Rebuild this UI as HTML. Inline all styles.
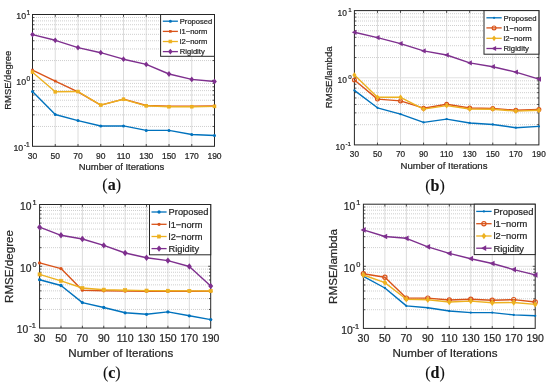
<!DOCTYPE html>
<html><head><meta charset="utf-8"><style>
html,body{margin:0;padding:0;background:#fff;}
body{width:550px;height:386px;overflow:hidden;}
svg{display:block;filter:blur(0.3px);font-family:"Liberation Sans",sans-serif;}
text{stroke:#262626;stroke-width:0.22px;}
.lt{stroke:#111;stroke-width:0.1px;}
</style></head><body>
<svg width="550" height="386" viewBox="0 0 550 386"><rect width="550" height="386" fill="#fff"/><g><line x1="55.25" y1="14.5" x2="55.25" y2="146.3" stroke="#d8d8d8" stroke-width="0.9"/><line x1="78.00" y1="14.5" x2="78.00" y2="146.3" stroke="#d8d8d8" stroke-width="0.9"/><line x1="100.75" y1="14.5" x2="100.75" y2="146.3" stroke="#d8d8d8" stroke-width="0.9"/><line x1="123.50" y1="14.5" x2="123.50" y2="146.3" stroke="#d8d8d8" stroke-width="0.9"/><line x1="146.25" y1="14.5" x2="146.25" y2="146.3" stroke="#d8d8d8" stroke-width="0.9"/><line x1="169.00" y1="14.5" x2="169.00" y2="146.3" stroke="#d8d8d8" stroke-width="0.9"/><line x1="191.75" y1="14.5" x2="191.75" y2="146.3" stroke="#d8d8d8" stroke-width="0.9"/><line x1="32.5" y1="80.40" x2="214.5" y2="80.40" stroke="#dedede" stroke-width="0.9"/><line x1="34" y1="60.56" x2="214.5" y2="60.56" stroke="#c3c3c3" stroke-width="0.8" stroke-dasharray="1 1"/><line x1="34" y1="48.96" x2="214.5" y2="48.96" stroke="#c3c3c3" stroke-width="0.8" stroke-dasharray="1 1"/><line x1="34" y1="40.72" x2="214.5" y2="40.72" stroke="#c3c3c3" stroke-width="0.8" stroke-dasharray="1 1"/><line x1="34" y1="34.34" x2="214.5" y2="34.34" stroke="#c3c3c3" stroke-width="0.8" stroke-dasharray="1 1"/><line x1="34" y1="29.12" x2="214.5" y2="29.12" stroke="#c3c3c3" stroke-width="0.8" stroke-dasharray="1 1"/><line x1="34" y1="24.71" x2="214.5" y2="24.71" stroke="#c3c3c3" stroke-width="0.8" stroke-dasharray="1 1"/><line x1="34" y1="20.89" x2="214.5" y2="20.89" stroke="#c3c3c3" stroke-width="0.8" stroke-dasharray="1 1"/><line x1="34" y1="17.52" x2="214.5" y2="17.52" stroke="#c3c3c3" stroke-width="0.8" stroke-dasharray="1 1"/><line x1="34" y1="126.46" x2="214.5" y2="126.46" stroke="#c3c3c3" stroke-width="0.8" stroke-dasharray="1 1"/><line x1="34" y1="114.86" x2="214.5" y2="114.86" stroke="#c3c3c3" stroke-width="0.8" stroke-dasharray="1 1"/><line x1="34" y1="106.62" x2="214.5" y2="106.62" stroke="#c3c3c3" stroke-width="0.8" stroke-dasharray="1 1"/><line x1="34" y1="100.24" x2="214.5" y2="100.24" stroke="#c3c3c3" stroke-width="0.8" stroke-dasharray="1 1"/><line x1="34" y1="95.02" x2="214.5" y2="95.02" stroke="#c3c3c3" stroke-width="0.8" stroke-dasharray="1 1"/><line x1="34" y1="90.61" x2="214.5" y2="90.61" stroke="#c3c3c3" stroke-width="0.8" stroke-dasharray="1 1"/><line x1="34" y1="86.79" x2="214.5" y2="86.79" stroke="#c3c3c3" stroke-width="0.8" stroke-dasharray="1 1"/><line x1="34" y1="83.42" x2="214.5" y2="83.42" stroke="#c3c3c3" stroke-width="0.8" stroke-dasharray="1 1"/></g><path d="M55.25 146.3v-2.3M55.25 14.5v2.3M78.00 146.3v-2.3M78.00 14.5v2.3M100.75 146.3v-2.3M100.75 14.5v2.3M123.50 146.3v-2.3M123.50 14.5v2.3M146.25 146.3v-2.3M146.25 14.5v2.3M169.00 146.3v-2.3M169.00 14.5v2.3M191.75 146.3v-2.3M191.75 14.5v2.3M32.5 60.56h1.8M214.5 60.56h-1.8M32.5 48.96h1.8M214.5 48.96h-1.8M32.5 40.72h1.8M214.5 40.72h-1.8M32.5 34.34h1.8M214.5 34.34h-1.8M32.5 29.12h1.8M214.5 29.12h-1.8M32.5 24.71h1.8M214.5 24.71h-1.8M32.5 20.89h1.8M214.5 20.89h-1.8M32.5 17.52h1.8M214.5 17.52h-1.8M32.5 126.46h1.8M214.5 126.46h-1.8M32.5 114.86h1.8M214.5 114.86h-1.8M32.5 106.62h1.8M214.5 106.62h-1.8M32.5 100.24h1.8M214.5 100.24h-1.8M32.5 95.02h1.8M214.5 95.02h-1.8M32.5 90.61h1.8M214.5 90.61h-1.8M32.5 86.79h1.8M214.5 86.79h-1.8M32.5 83.42h1.8M214.5 83.42h-1.8M32.5 80.40h2.5M214.5 80.40h-2.5" stroke="#262626" stroke-width="0.8" fill="none"/><rect x="32.5" y="14.5" width="182.00" height="131.80" fill="none" stroke="#262626" stroke-width="1.0"/><polyline points="32.50,91.50 55.25,114.50 78.00,120.60 100.75,126.00 123.50,125.90 146.25,130.40 169.00,130.40 191.75,134.50 214.50,135.50" fill="none" stroke="#0072BD" stroke-width="1.4" stroke-linejoin="round"/><circle cx="32.50" cy="91.50" r="1.50" fill="#0072BD"/><circle cx="55.25" cy="114.50" r="1.50" fill="#0072BD"/><circle cx="78.00" cy="120.60" r="1.50" fill="#0072BD"/><circle cx="100.75" cy="126.00" r="1.50" fill="#0072BD"/><circle cx="123.50" cy="125.90" r="1.50" fill="#0072BD"/><circle cx="146.25" cy="130.40" r="1.50" fill="#0072BD"/><circle cx="169.00" cy="130.40" r="1.50" fill="#0072BD"/><circle cx="191.75" cy="134.50" r="1.50" fill="#0072BD"/><circle cx="214.50" cy="135.50" r="1.50" fill="#0072BD"/><polyline points="32.50,70.10 55.25,81.10 78.00,91.80 100.75,105.10 123.50,99.10 146.25,105.50 169.00,106.30 191.75,106.30 214.50,106.00" fill="none" stroke="#D95319" stroke-width="1.4" stroke-linejoin="round"/><rect x="31.20" y="68.80" width="2.60" height="2.60" fill="#D95319"/><rect x="53.95" y="79.80" width="2.60" height="2.60" fill="#D95319"/><rect x="76.70" y="90.50" width="2.60" height="2.60" fill="#D95319"/><rect x="99.45" y="103.80" width="2.60" height="2.60" fill="#D95319"/><rect x="122.20" y="97.80" width="2.60" height="2.60" fill="#D95319"/><rect x="144.95" y="104.20" width="2.60" height="2.60" fill="#D95319"/><rect x="167.70" y="105.00" width="2.60" height="2.60" fill="#D95319"/><rect x="190.45" y="105.00" width="2.60" height="2.60" fill="#D95319"/><rect x="213.20" y="104.70" width="2.60" height="2.60" fill="#D95319"/><polyline points="32.50,72.20 55.25,91.80 78.00,91.50 100.75,105.10 123.50,99.30 146.25,105.80 169.00,106.70 191.75,106.70 214.50,106.40" fill="none" stroke="#EDB120" stroke-width="1.4" stroke-linejoin="round"/><rect x="31.05" y="70.75" width="2.90" height="2.90" fill="#EDB120" stroke="#EDB120" stroke-width="0.6"/><rect x="53.80" y="90.35" width="2.90" height="2.90" fill="#EDB120" stroke="#EDB120" stroke-width="0.6"/><rect x="76.55" y="90.05" width="2.90" height="2.90" fill="#EDB120" stroke="#EDB120" stroke-width="0.6"/><rect x="99.30" y="103.65" width="2.90" height="2.90" fill="#EDB120" stroke="#EDB120" stroke-width="0.6"/><rect x="122.05" y="97.85" width="2.90" height="2.90" fill="#EDB120" stroke="#EDB120" stroke-width="0.6"/><rect x="144.80" y="104.35" width="2.90" height="2.90" fill="#EDB120" stroke="#EDB120" stroke-width="0.6"/><rect x="167.55" y="105.25" width="2.90" height="2.90" fill="#EDB120" stroke="#EDB120" stroke-width="0.6"/><rect x="190.30" y="105.25" width="2.90" height="2.90" fill="#EDB120" stroke="#EDB120" stroke-width="0.6"/><rect x="213.05" y="104.95" width="2.90" height="2.90" fill="#EDB120" stroke="#EDB120" stroke-width="0.6"/><polyline points="32.50,34.60 55.25,40.30 78.00,47.60 100.75,52.70 123.50,59.20 146.25,64.40 169.00,74.00 191.75,79.40 214.50,81.50" fill="none" stroke="#7E2F8E" stroke-width="1.4" stroke-linejoin="round"/><path d="M32.50 31.70L34.80 34.60L32.50 37.50L30.20 34.60Z" fill="#7E2F8E"/><path d="M55.25 37.40L57.55 40.30L55.25 43.20L52.95 40.30Z" fill="#7E2F8E"/><path d="M78.00 44.70L80.30 47.60L78.00 50.50L75.70 47.60Z" fill="#7E2F8E"/><path d="M100.75 49.80L103.05 52.70L100.75 55.60L98.45 52.70Z" fill="#7E2F8E"/><path d="M123.50 56.30L125.80 59.20L123.50 62.10L121.20 59.20Z" fill="#7E2F8E"/><path d="M146.25 61.50L148.55 64.40L146.25 67.30L143.95 64.40Z" fill="#7E2F8E"/><path d="M169.00 71.10L171.30 74.00L169.00 76.90L166.70 74.00Z" fill="#7E2F8E"/><path d="M191.75 76.50L194.05 79.40L191.75 82.30L189.45 79.40Z" fill="#7E2F8E"/><path d="M214.50 78.60L216.80 81.50L214.50 84.40L212.20 81.50Z" fill="#7E2F8E"/><rect x="160.6" y="14.5" width="53.90" height="41.80" fill="#fff" stroke="#262626" stroke-width="1.0"/><line x1="162.8" y1="21.2" x2="177.9" y2="21.2" stroke="#0072BD" stroke-width="1.3"/><circle cx="170.35" cy="21.20" r="1.50" fill="#0072BD"/><text x="179.8" y="23.94" font-size="7.6" fill="#262626">Proposed</text><line x1="162.8" y1="31.4" x2="177.9" y2="31.4" stroke="#D95319" stroke-width="1.3"/><rect x="169.05" y="30.10" width="2.60" height="2.60" fill="#D95319"/><text x="179.8" y="34.14" font-size="7.6" fill="#262626">l1−norm</text><line x1="162.8" y1="41.5" x2="177.9" y2="41.5" stroke="#EDB120" stroke-width="1.3"/><rect x="168.90" y="40.05" width="2.90" height="2.90" fill="#EDB120" stroke="#EDB120" stroke-width="0.6"/><text x="179.8" y="44.24" font-size="7.6" fill="#262626">l2−norm</text><line x1="162.8" y1="51.6" x2="177.9" y2="51.6" stroke="#7E2F8E" stroke-width="1.3"/><path d="M170.35 48.70L172.65 51.60L170.35 54.50L168.05 51.60Z" fill="#7E2F8E"/><text x="179.8" y="54.34" font-size="7.6" fill="#262626">Rigidity</text><text x="32.50" y="158.6" font-size="8.5" fill="#262626" text-anchor="middle">30</text><text x="55.25" y="158.6" font-size="8.5" fill="#262626" text-anchor="middle">50</text><text x="78.00" y="158.6" font-size="8.5" fill="#262626" text-anchor="middle">70</text><text x="100.75" y="158.6" font-size="8.5" fill="#262626" text-anchor="middle">90</text><text x="123.50" y="158.6" font-size="8.5" fill="#262626" text-anchor="middle">110</text><text x="146.25" y="158.6" font-size="8.5" fill="#262626" text-anchor="middle">130</text><text x="169.00" y="158.6" font-size="8.5" fill="#262626" text-anchor="middle">150</text><text x="191.75" y="158.6" font-size="8.5" fill="#262626" text-anchor="middle">170</text><text x="214.50" y="158.6" font-size="8.5" fill="#262626" text-anchor="middle">190</text><text x="30.20" y="15.30" font-size="6.50" fill="#262626" text-anchor="end">1</text><text x="26.10" y="19.40" font-size="8.8" fill="#262626" text-anchor="end">10</text><text x="30.20" y="81.20" font-size="6.50" fill="#262626" text-anchor="end">0</text><text x="26.10" y="85.30" font-size="8.8" fill="#262626" text-anchor="end">10</text><text x="29.70" y="147.10" font-size="6.50" fill="#262626" text-anchor="end">-1</text><text x="23.25" y="151.20" font-size="8.8" fill="#262626" text-anchor="end">10</text><text x="121.5" y="170.3" font-size="9.45" fill="#262626" text-anchor="middle">Number of Iterations</text><text transform="translate(10.7,80.25) rotate(-90)" font-size="9.4" fill="#262626" text-anchor="middle">RMSE/degree</text><text x="111.7" y="189.7" class="lt" font-family="Liberation Serif, serif" font-size="16" fill="#111" text-anchor="middle"><tspan>(</tspan><tspan font-weight="bold">a</tspan><tspan>)</tspan></text><g><line x1="377.46" y1="10.6" x2="377.46" y2="144.9" stroke="#d8d8d8" stroke-width="0.9"/><line x1="400.52" y1="10.6" x2="400.52" y2="144.9" stroke="#d8d8d8" stroke-width="0.9"/><line x1="423.59" y1="10.6" x2="423.59" y2="144.9" stroke="#d8d8d8" stroke-width="0.9"/><line x1="446.65" y1="10.6" x2="446.65" y2="144.9" stroke="#d8d8d8" stroke-width="0.9"/><line x1="469.71" y1="10.6" x2="469.71" y2="144.9" stroke="#d8d8d8" stroke-width="0.9"/><line x1="492.77" y1="10.6" x2="492.77" y2="144.9" stroke="#d8d8d8" stroke-width="0.9"/><line x1="515.84" y1="10.6" x2="515.84" y2="144.9" stroke="#d8d8d8" stroke-width="0.9"/><line x1="354.4" y1="77.75" x2="538.9" y2="77.75" stroke="#dedede" stroke-width="0.9"/><line x1="356" y1="57.54" x2="538.9" y2="57.54" stroke="#c3c3c3" stroke-width="0.8" stroke-dasharray="1 1"/><line x1="356" y1="45.71" x2="538.9" y2="45.71" stroke="#c3c3c3" stroke-width="0.8" stroke-dasharray="1 1"/><line x1="356" y1="37.32" x2="538.9" y2="37.32" stroke="#c3c3c3" stroke-width="0.8" stroke-dasharray="1 1"/><line x1="356" y1="30.81" x2="538.9" y2="30.81" stroke="#c3c3c3" stroke-width="0.8" stroke-dasharray="1 1"/><line x1="356" y1="25.50" x2="538.9" y2="25.50" stroke="#c3c3c3" stroke-width="0.8" stroke-dasharray="1 1"/><line x1="356" y1="21.00" x2="538.9" y2="21.00" stroke="#c3c3c3" stroke-width="0.8" stroke-dasharray="1 1"/><line x1="356" y1="17.11" x2="538.9" y2="17.11" stroke="#c3c3c3" stroke-width="0.8" stroke-dasharray="1 1"/><line x1="356" y1="13.67" x2="538.9" y2="13.67" stroke="#c3c3c3" stroke-width="0.8" stroke-dasharray="1 1"/><line x1="356" y1="124.69" x2="538.9" y2="124.69" stroke="#c3c3c3" stroke-width="0.8" stroke-dasharray="1 1"/><line x1="356" y1="112.86" x2="538.9" y2="112.86" stroke="#c3c3c3" stroke-width="0.8" stroke-dasharray="1 1"/><line x1="356" y1="104.47" x2="538.9" y2="104.47" stroke="#c3c3c3" stroke-width="0.8" stroke-dasharray="1 1"/><line x1="356" y1="97.96" x2="538.9" y2="97.96" stroke="#c3c3c3" stroke-width="0.8" stroke-dasharray="1 1"/><line x1="356" y1="92.65" x2="538.9" y2="92.65" stroke="#c3c3c3" stroke-width="0.8" stroke-dasharray="1 1"/><line x1="356" y1="88.15" x2="538.9" y2="88.15" stroke="#c3c3c3" stroke-width="0.8" stroke-dasharray="1 1"/><line x1="356" y1="84.26" x2="538.9" y2="84.26" stroke="#c3c3c3" stroke-width="0.8" stroke-dasharray="1 1"/><line x1="356" y1="80.82" x2="538.9" y2="80.82" stroke="#c3c3c3" stroke-width="0.8" stroke-dasharray="1 1"/></g><path d="M377.46 144.9v-2.3M377.46 10.6v2.3M400.52 144.9v-2.3M400.52 10.6v2.3M423.59 144.9v-2.3M423.59 10.6v2.3M446.65 144.9v-2.3M446.65 10.6v2.3M469.71 144.9v-2.3M469.71 10.6v2.3M492.77 144.9v-2.3M492.77 10.6v2.3M515.84 144.9v-2.3M515.84 10.6v2.3M354.4 57.54h1.8M538.9 57.54h-1.8M354.4 45.71h1.8M538.9 45.71h-1.8M354.4 37.32h1.8M538.9 37.32h-1.8M354.4 30.81h1.8M538.9 30.81h-1.8M354.4 25.50h1.8M538.9 25.50h-1.8M354.4 21.00h1.8M538.9 21.00h-1.8M354.4 17.11h1.8M538.9 17.11h-1.8M354.4 13.67h1.8M538.9 13.67h-1.8M354.4 124.69h1.8M538.9 124.69h-1.8M354.4 112.86h1.8M538.9 112.86h-1.8M354.4 104.47h1.8M538.9 104.47h-1.8M354.4 97.96h1.8M538.9 97.96h-1.8M354.4 92.65h1.8M538.9 92.65h-1.8M354.4 88.15h1.8M538.9 88.15h-1.8M354.4 84.26h1.8M538.9 84.26h-1.8M354.4 80.82h1.8M538.9 80.82h-1.8M354.4 77.75h2.5M538.9 77.75h-2.5" stroke="#262626" stroke-width="0.8" fill="none"/><rect x="354.4" y="10.6" width="184.50" height="134.30" fill="none" stroke="#262626" stroke-width="1.0"/><polyline points="354.40,90.40 377.46,107.80 400.52,114.20 423.59,122.40 446.65,119.10 469.71,123.00 492.77,124.50 515.84,127.70 538.90,126.40" fill="none" stroke="#0072BD" stroke-width="1.4" stroke-linejoin="round"/><circle cx="354.40" cy="90.40" r="1.15" fill="#0072BD"/><circle cx="377.46" cy="107.80" r="1.15" fill="#0072BD"/><circle cx="400.52" cy="114.20" r="1.15" fill="#0072BD"/><circle cx="423.59" cy="122.40" r="1.15" fill="#0072BD"/><circle cx="446.65" cy="119.10" r="1.15" fill="#0072BD"/><circle cx="469.71" cy="123.00" r="1.15" fill="#0072BD"/><circle cx="492.77" cy="124.50" r="1.15" fill="#0072BD"/><circle cx="515.84" cy="127.70" r="1.15" fill="#0072BD"/><circle cx="538.90" cy="126.40" r="1.15" fill="#0072BD"/><polyline points="354.40,80.00 377.46,99.10 400.52,100.90 423.59,108.20 446.65,104.20 469.71,108.00 492.77,108.40 515.84,110.30 538.90,109.40" fill="none" stroke="#D95319" stroke-width="1.4" stroke-linejoin="round"/><circle cx="354.40" cy="80.00" r="1.90" fill="none" stroke="#D95319" stroke-width="1.2"/><circle cx="377.46" cy="99.10" r="1.90" fill="none" stroke="#D95319" stroke-width="1.2"/><circle cx="400.52" cy="100.90" r="1.90" fill="none" stroke="#D95319" stroke-width="1.2"/><circle cx="423.59" cy="108.20" r="1.90" fill="none" stroke="#D95319" stroke-width="1.2"/><circle cx="446.65" cy="104.20" r="1.90" fill="none" stroke="#D95319" stroke-width="1.2"/><circle cx="469.71" cy="108.00" r="1.90" fill="none" stroke="#D95319" stroke-width="1.2"/><circle cx="492.77" cy="108.40" r="1.90" fill="none" stroke="#D95319" stroke-width="1.2"/><circle cx="515.84" cy="110.30" r="1.90" fill="none" stroke="#D95319" stroke-width="1.2"/><circle cx="538.90" cy="109.40" r="1.90" fill="none" stroke="#D95319" stroke-width="1.2"/><polyline points="354.40,75.10 377.46,97.30 400.52,97.30 423.59,109.10 446.65,105.60 469.71,109.00 492.77,109.20 515.84,111.10 538.90,110.30" fill="none" stroke="#EDB120" stroke-width="1.4" stroke-linejoin="round"/><path d="M354.40 72.20L356.50 75.10L354.40 78.00L352.30 75.10Z" fill="#EDB120"/><path d="M377.46 94.40L379.56 97.30L377.46 100.20L375.36 97.30Z" fill="#EDB120"/><path d="M400.52 94.40L402.62 97.30L400.52 100.20L398.42 97.30Z" fill="#EDB120"/><path d="M423.59 106.20L425.69 109.10L423.59 112.00L421.49 109.10Z" fill="#EDB120"/><path d="M446.65 102.70L448.75 105.60L446.65 108.50L444.55 105.60Z" fill="#EDB120"/><path d="M469.71 106.10L471.81 109.00L469.71 111.90L467.61 109.00Z" fill="#EDB120"/><path d="M492.77 106.30L494.88 109.20L492.77 112.10L490.67 109.20Z" fill="#EDB120"/><path d="M515.84 108.20L517.94 111.10L515.84 114.00L513.74 111.10Z" fill="#EDB120"/><path d="M538.90 107.40L541.00 110.30L538.90 113.20L536.80 110.30Z" fill="#EDB120"/><polyline points="354.40,32.30 377.46,37.60 400.52,43.60 423.59,50.90 446.65,55.00 469.71,62.90 492.77,66.70 515.84,72.10 538.90,79.10" fill="none" stroke="#7E2F8E" stroke-width="1.4" stroke-linejoin="round"/><path d="M351.80 32.30L356.48 29.70L356.48 34.90Z" fill="#7E2F8E"/><path d="M374.86 37.60L379.54 35.00L379.54 40.20Z" fill="#7E2F8E"/><path d="M397.92 43.60L402.60 41.00L402.60 46.20Z" fill="#7E2F8E"/><path d="M420.99 50.90L425.67 48.30L425.67 53.50Z" fill="#7E2F8E"/><path d="M444.05 55.00L448.73 52.40L448.73 57.60Z" fill="#7E2F8E"/><path d="M467.11 62.90L471.79 60.30L471.79 65.50Z" fill="#7E2F8E"/><path d="M490.17 66.70L494.85 64.10L494.85 69.30Z" fill="#7E2F8E"/><path d="M513.24 72.10L517.92 69.50L517.92 74.70Z" fill="#7E2F8E"/><path d="M536.30 79.10L540.98 76.50L540.98 81.70Z" fill="#7E2F8E"/><rect x="484.0" y="10.6" width="54.90" height="43.60" fill="#fff" stroke="#262626" stroke-width="1.0"/><line x1="486.4" y1="17.8" x2="501.7" y2="17.8" stroke="#0072BD" stroke-width="1.3"/><circle cx="494.05" cy="17.80" r="1.15" fill="#0072BD"/><text x="503.5" y="20.59" font-size="7.75" fill="#262626">Proposed</text><line x1="486.4" y1="27.9" x2="501.7" y2="27.9" stroke="#D95319" stroke-width="1.3"/><circle cx="494.05" cy="27.90" r="1.90" fill="none" stroke="#D95319" stroke-width="1.2"/><text x="503.5" y="30.69" font-size="7.75" fill="#262626">l1−norm</text><line x1="486.4" y1="38.3" x2="501.7" y2="38.3" stroke="#EDB120" stroke-width="1.3"/><path d="M494.05 35.40L496.15 38.30L494.05 41.20L491.95 38.30Z" fill="#EDB120"/><text x="503.5" y="41.09" font-size="7.75" fill="#262626">l2−norm</text><line x1="486.4" y1="48.5" x2="501.7" y2="48.5" stroke="#7E2F8E" stroke-width="1.3"/><path d="M491.45 48.50L496.13 45.90L496.13 51.10Z" fill="#7E2F8E"/><text x="503.5" y="51.29" font-size="7.75" fill="#262626">Rigidity</text><text x="354.40" y="156.8" font-size="8.2" fill="#262626" text-anchor="middle">30</text><text x="377.46" y="156.8" font-size="8.2" fill="#262626" text-anchor="middle">50</text><text x="400.52" y="156.8" font-size="8.2" fill="#262626" text-anchor="middle">70</text><text x="423.59" y="156.8" font-size="8.2" fill="#262626" text-anchor="middle">90</text><text x="446.65" y="156.8" font-size="8.2" fill="#262626" text-anchor="middle">110</text><text x="469.71" y="156.8" font-size="8.2" fill="#262626" text-anchor="middle">130</text><text x="492.77" y="156.8" font-size="8.2" fill="#262626" text-anchor="middle">150</text><text x="515.84" y="156.8" font-size="8.2" fill="#262626" text-anchor="middle">170</text><text x="538.90" y="156.8" font-size="8.2" fill="#262626" text-anchor="middle">190</text><text x="351.60" y="11.80" font-size="6.20" fill="#262626" text-anchor="end">1</text><text x="346.80" y="15.60" font-size="8.4" fill="#262626" text-anchor="end">10</text><text x="351.60" y="78.95" font-size="6.20" fill="#262626" text-anchor="end">0</text><text x="346.80" y="82.75" font-size="8.4" fill="#262626" text-anchor="end">10</text><text x="350.90" y="146.10" font-size="6.20" fill="#262626" text-anchor="end">-1</text><text x="344.90" y="149.90" font-size="8.4" fill="#262626" text-anchor="end">10</text><text x="444.05" y="168.6" font-size="9.6" fill="#262626" text-anchor="middle">Number of Iterations</text><text transform="translate(331.8,77.30) rotate(-90)" font-size="9.6" fill="#262626" text-anchor="middle">RMSE/lambda</text><text x="435.0" y="190.6" class="lt" font-family="Liberation Serif, serif" font-size="16" fill="#111" text-anchor="middle"><tspan>(</tspan><tspan font-weight="bold">b</tspan><tspan>)</tspan></text><g><line x1="60.99" y1="204.5" x2="60.99" y2="328.05" stroke="#d8d8d8" stroke-width="0.9"/><line x1="82.38" y1="204.5" x2="82.38" y2="328.05" stroke="#d8d8d8" stroke-width="0.9"/><line x1="103.76" y1="204.5" x2="103.76" y2="328.05" stroke="#d8d8d8" stroke-width="0.9"/><line x1="125.15" y1="204.5" x2="125.15" y2="328.05" stroke="#d8d8d8" stroke-width="0.9"/><line x1="146.54" y1="204.5" x2="146.54" y2="328.05" stroke="#d8d8d8" stroke-width="0.9"/><line x1="167.92" y1="204.5" x2="167.92" y2="328.05" stroke="#d8d8d8" stroke-width="0.9"/><line x1="189.31" y1="204.5" x2="189.31" y2="328.05" stroke="#d8d8d8" stroke-width="0.9"/><line x1="39.6" y1="266.27" x2="210.7" y2="266.27" stroke="#dedede" stroke-width="0.9"/><line x1="41" y1="247.68" x2="210.7" y2="247.68" stroke="#c3c3c3" stroke-width="0.8" stroke-dasharray="1 1"/><line x1="41" y1="236.80" x2="210.7" y2="236.80" stroke="#c3c3c3" stroke-width="0.8" stroke-dasharray="1 1"/><line x1="41" y1="229.08" x2="210.7" y2="229.08" stroke="#c3c3c3" stroke-width="0.8" stroke-dasharray="1 1"/><line x1="41" y1="223.10" x2="210.7" y2="223.10" stroke="#c3c3c3" stroke-width="0.8" stroke-dasharray="1 1"/><line x1="41" y1="218.20" x2="210.7" y2="218.20" stroke="#c3c3c3" stroke-width="0.8" stroke-dasharray="1 1"/><line x1="41" y1="214.07" x2="210.7" y2="214.07" stroke="#c3c3c3" stroke-width="0.8" stroke-dasharray="1 1"/><line x1="41" y1="210.49" x2="210.7" y2="210.49" stroke="#c3c3c3" stroke-width="0.8" stroke-dasharray="1 1"/><line x1="41" y1="207.33" x2="210.7" y2="207.33" stroke="#c3c3c3" stroke-width="0.8" stroke-dasharray="1 1"/><line x1="41" y1="309.45" x2="210.7" y2="309.45" stroke="#c3c3c3" stroke-width="0.8" stroke-dasharray="1 1"/><line x1="41" y1="298.58" x2="210.7" y2="298.58" stroke="#c3c3c3" stroke-width="0.8" stroke-dasharray="1 1"/><line x1="41" y1="290.86" x2="210.7" y2="290.86" stroke="#c3c3c3" stroke-width="0.8" stroke-dasharray="1 1"/><line x1="41" y1="284.87" x2="210.7" y2="284.87" stroke="#c3c3c3" stroke-width="0.8" stroke-dasharray="1 1"/><line x1="41" y1="279.98" x2="210.7" y2="279.98" stroke="#c3c3c3" stroke-width="0.8" stroke-dasharray="1 1"/><line x1="41" y1="275.84" x2="210.7" y2="275.84" stroke="#c3c3c3" stroke-width="0.8" stroke-dasharray="1 1"/><line x1="41" y1="272.26" x2="210.7" y2="272.26" stroke="#c3c3c3" stroke-width="0.8" stroke-dasharray="1 1"/><line x1="41" y1="269.10" x2="210.7" y2="269.10" stroke="#c3c3c3" stroke-width="0.8" stroke-dasharray="1 1"/></g><path d="M60.99 328.05v-2.3M60.99 204.5v2.3M82.38 328.05v-2.3M82.38 204.5v2.3M103.76 328.05v-2.3M103.76 204.5v2.3M125.15 328.05v-2.3M125.15 204.5v2.3M146.54 328.05v-2.3M146.54 204.5v2.3M167.92 328.05v-2.3M167.92 204.5v2.3M189.31 328.05v-2.3M189.31 204.5v2.3M39.6 247.68h1.8M210.7 247.68h-1.8M39.6 236.80h1.8M210.7 236.80h-1.8M39.6 229.08h1.8M210.7 229.08h-1.8M39.6 223.10h1.8M210.7 223.10h-1.8M39.6 218.20h1.8M210.7 218.20h-1.8M39.6 214.07h1.8M210.7 214.07h-1.8M39.6 210.49h1.8M210.7 210.49h-1.8M39.6 207.33h1.8M210.7 207.33h-1.8M39.6 309.45h1.8M210.7 309.45h-1.8M39.6 298.58h1.8M210.7 298.58h-1.8M39.6 290.86h1.8M210.7 290.86h-1.8M39.6 284.87h1.8M210.7 284.87h-1.8M39.6 279.98h1.8M210.7 279.98h-1.8M39.6 275.84h1.8M210.7 275.84h-1.8M39.6 272.26h1.8M210.7 272.26h-1.8M39.6 269.10h1.8M210.7 269.10h-1.8M39.6 266.27h2.5M210.7 266.27h-2.5" stroke="#262626" stroke-width="0.8" fill="none"/><rect x="39.6" y="204.5" width="171.10" height="123.55" fill="none" stroke="#262626" stroke-width="1.0"/><polyline points="39.60,279.70 60.99,285.50 82.38,302.60 103.76,307.50 125.15,312.80 146.54,314.30 167.92,311.90 189.31,315.80 210.70,319.60" fill="none" stroke="#0072BD" stroke-width="1.4" stroke-linejoin="round"/><circle cx="39.60" cy="279.70" r="1.65" fill="#0072BD"/><circle cx="60.99" cy="285.50" r="1.65" fill="#0072BD"/><circle cx="82.38" cy="302.60" r="1.65" fill="#0072BD"/><circle cx="103.76" cy="307.50" r="1.65" fill="#0072BD"/><circle cx="125.15" cy="312.80" r="1.65" fill="#0072BD"/><circle cx="146.54" cy="314.30" r="1.65" fill="#0072BD"/><circle cx="167.92" cy="311.90" r="1.65" fill="#0072BD"/><circle cx="189.31" cy="315.80" r="1.65" fill="#0072BD"/><circle cx="210.70" cy="319.60" r="1.65" fill="#0072BD"/><polyline points="39.60,262.90 60.99,268.60 82.38,290.20 103.76,290.80 125.15,291.00 146.54,291.20 167.92,291.20 189.31,291.20 210.70,291.20" fill="none" stroke="#D95319" stroke-width="1.4" stroke-linejoin="round"/><circle cx="39.60" cy="262.90" r="1.65" fill="#D95319"/><circle cx="60.99" cy="268.60" r="1.65" fill="#D95319"/><circle cx="82.38" cy="290.20" r="1.65" fill="#D95319"/><circle cx="103.76" cy="290.80" r="1.65" fill="#D95319"/><circle cx="125.15" cy="291.00" r="1.65" fill="#D95319"/><circle cx="146.54" cy="291.20" r="1.65" fill="#D95319"/><circle cx="167.92" cy="291.20" r="1.65" fill="#D95319"/><circle cx="189.31" cy="291.20" r="1.65" fill="#D95319"/><circle cx="210.70" cy="291.20" r="1.65" fill="#D95319"/><polyline points="39.60,274.40 60.99,280.80 82.38,288.00 103.76,289.70 125.15,290.20 146.54,290.60 167.92,290.80 189.31,290.90 210.70,291.00" fill="none" stroke="#EDB120" stroke-width="1.4" stroke-linejoin="round"/><rect x="38.01" y="272.80" width="3.19" height="3.19" fill="#EDB120" stroke="#EDB120" stroke-width="0.6"/><rect x="59.39" y="279.20" width="3.19" height="3.19" fill="#EDB120" stroke="#EDB120" stroke-width="0.6"/><rect x="80.78" y="286.40" width="3.19" height="3.19" fill="#EDB120" stroke="#EDB120" stroke-width="0.6"/><rect x="102.17" y="288.10" width="3.19" height="3.19" fill="#EDB120" stroke="#EDB120" stroke-width="0.6"/><rect x="123.56" y="288.60" width="3.19" height="3.19" fill="#EDB120" stroke="#EDB120" stroke-width="0.6"/><rect x="144.94" y="289.00" width="3.19" height="3.19" fill="#EDB120" stroke="#EDB120" stroke-width="0.6"/><rect x="166.33" y="289.20" width="3.19" height="3.19" fill="#EDB120" stroke="#EDB120" stroke-width="0.6"/><rect x="187.72" y="289.30" width="3.19" height="3.19" fill="#EDB120" stroke="#EDB120" stroke-width="0.6"/><rect x="209.10" y="289.40" width="3.19" height="3.19" fill="#EDB120" stroke="#EDB120" stroke-width="0.6"/><polyline points="39.60,227.20 60.99,235.30 82.38,239.00 103.76,245.40 125.15,253.00 146.54,257.70 167.92,260.60 189.31,266.50 210.70,286.10" fill="none" stroke="#7E2F8E" stroke-width="1.4" stroke-linejoin="round"/><path d="M39.60 224.01L42.13 227.20L39.60 230.39L37.07 227.20Z" fill="#7E2F8E"/><path d="M60.99 232.11L63.52 235.30L60.99 238.49L58.46 235.30Z" fill="#7E2F8E"/><path d="M82.38 235.81L84.91 239.00L82.38 242.19L79.84 239.00Z" fill="#7E2F8E"/><path d="M103.76 242.21L106.29 245.40L103.76 248.59L101.23 245.40Z" fill="#7E2F8E"/><path d="M125.15 249.81L127.68 253.00L125.15 256.19L122.62 253.00Z" fill="#7E2F8E"/><path d="M146.54 254.51L149.07 257.70L146.54 260.89L144.01 257.70Z" fill="#7E2F8E"/><path d="M167.92 257.41L170.45 260.60L167.92 263.79L165.39 260.60Z" fill="#7E2F8E"/><path d="M189.31 263.31L191.84 266.50L189.31 269.69L186.78 266.50Z" fill="#7E2F8E"/><path d="M210.70 282.91L213.23 286.10L210.70 289.29L208.17 286.10Z" fill="#7E2F8E"/><rect x="149.5" y="204.5" width="61.20" height="50.30" fill="#fff" stroke="#262626" stroke-width="1.0"/><line x1="151.5" y1="212.0" x2="166.6" y2="212.0" stroke="#0072BD" stroke-width="1.3"/><circle cx="159.05" cy="212.00" r="1.65" fill="#0072BD"/><text x="168.6" y="215.35" font-size="9.3" fill="#262626">Proposed</text><line x1="151.5" y1="224.3" x2="166.6" y2="224.3" stroke="#D95319" stroke-width="1.3"/><circle cx="159.05" cy="224.30" r="1.65" fill="#D95319"/><text x="168.6" y="227.65" font-size="9.3" fill="#262626">l1−norm</text><line x1="151.5" y1="236.5" x2="166.6" y2="236.5" stroke="#EDB120" stroke-width="1.3"/><rect x="157.46" y="234.91" width="3.19" height="3.19" fill="#EDB120" stroke="#EDB120" stroke-width="0.6"/><text x="168.6" y="239.85" font-size="9.3" fill="#262626">l2−norm</text><line x1="151.5" y1="248.6" x2="166.6" y2="248.6" stroke="#7E2F8E" stroke-width="1.3"/><path d="M159.05 245.41L161.58 248.60L159.05 251.79L156.52 248.60Z" fill="#7E2F8E"/><text x="168.6" y="251.95" font-size="9.3" fill="#262626">Rigidity</text><text x="39.60" y="342.0" font-size="10.5" fill="#262626" text-anchor="middle">30</text><text x="60.99" y="342.0" font-size="10.5" fill="#262626" text-anchor="middle">50</text><text x="82.38" y="342.0" font-size="10.5" fill="#262626" text-anchor="middle">70</text><text x="103.76" y="342.0" font-size="10.5" fill="#262626" text-anchor="middle">90</text><text x="125.15" y="342.0" font-size="10.5" fill="#262626" text-anchor="middle">110</text><text x="146.54" y="342.0" font-size="10.5" fill="#262626" text-anchor="middle">130</text><text x="167.92" y="342.0" font-size="10.5" fill="#262626" text-anchor="middle">150</text><text x="189.31" y="342.0" font-size="10.5" fill="#262626" text-anchor="middle">170</text><text x="210.70" y="342.0" font-size="10.5" fill="#262626" text-anchor="middle">190</text><text x="36.50" y="204.80" font-size="7.40" fill="#262626" text-anchor="end">1</text><text x="31.50" y="209.90" font-size="10.3" fill="#262626" text-anchor="end">10</text><text x="36.50" y="266.57" font-size="7.40" fill="#262626" text-anchor="end">0</text><text x="31.50" y="271.67" font-size="10.3" fill="#262626" text-anchor="end">10</text><text x="35.90" y="328.35" font-size="7.40" fill="#262626" text-anchor="end">-1</text><text x="28.30" y="333.45" font-size="10.3" fill="#262626" text-anchor="end">10</text><text x="120.8" y="357.0" font-size="11.6" fill="#262626" text-anchor="middle">Number of Iterations</text><text transform="translate(12.9,266.50) rotate(-90)" font-size="11.6" fill="#262626" text-anchor="middle">RMSE/degree</text><text x="111.8" y="378.0" class="lt" font-family="Liberation Serif, serif" font-size="16" fill="#111" text-anchor="middle"><tspan>(</tspan><tspan font-weight="bold">c</tspan><tspan>)</tspan></text><g><line x1="384.88" y1="204.2" x2="384.88" y2="328.4" stroke="#d8d8d8" stroke-width="0.9"/><line x1="406.35" y1="204.2" x2="406.35" y2="328.4" stroke="#d8d8d8" stroke-width="0.9"/><line x1="427.82" y1="204.2" x2="427.82" y2="328.4" stroke="#d8d8d8" stroke-width="0.9"/><line x1="449.30" y1="204.2" x2="449.30" y2="328.4" stroke="#d8d8d8" stroke-width="0.9"/><line x1="470.78" y1="204.2" x2="470.78" y2="328.4" stroke="#d8d8d8" stroke-width="0.9"/><line x1="492.25" y1="204.2" x2="492.25" y2="328.4" stroke="#d8d8d8" stroke-width="0.9"/><line x1="513.73" y1="204.2" x2="513.73" y2="328.4" stroke="#d8d8d8" stroke-width="0.9"/><line x1="363.4" y1="266.30" x2="535.2" y2="266.30" stroke="#dedede" stroke-width="0.9"/><line x1="365" y1="247.61" x2="535.2" y2="247.61" stroke="#c3c3c3" stroke-width="0.8" stroke-dasharray="1 1"/><line x1="365" y1="236.67" x2="535.2" y2="236.67" stroke="#c3c3c3" stroke-width="0.8" stroke-dasharray="1 1"/><line x1="365" y1="228.91" x2="535.2" y2="228.91" stroke="#c3c3c3" stroke-width="0.8" stroke-dasharray="1 1"/><line x1="365" y1="222.89" x2="535.2" y2="222.89" stroke="#c3c3c3" stroke-width="0.8" stroke-dasharray="1 1"/><line x1="365" y1="217.98" x2="535.2" y2="217.98" stroke="#c3c3c3" stroke-width="0.8" stroke-dasharray="1 1"/><line x1="365" y1="213.82" x2="535.2" y2="213.82" stroke="#c3c3c3" stroke-width="0.8" stroke-dasharray="1 1"/><line x1="365" y1="210.22" x2="535.2" y2="210.22" stroke="#c3c3c3" stroke-width="0.8" stroke-dasharray="1 1"/><line x1="365" y1="207.04" x2="535.2" y2="207.04" stroke="#c3c3c3" stroke-width="0.8" stroke-dasharray="1 1"/><line x1="365" y1="309.71" x2="535.2" y2="309.71" stroke="#c3c3c3" stroke-width="0.8" stroke-dasharray="1 1"/><line x1="365" y1="298.77" x2="535.2" y2="298.77" stroke="#c3c3c3" stroke-width="0.8" stroke-dasharray="1 1"/><line x1="365" y1="291.01" x2="535.2" y2="291.01" stroke="#c3c3c3" stroke-width="0.8" stroke-dasharray="1 1"/><line x1="365" y1="284.99" x2="535.2" y2="284.99" stroke="#c3c3c3" stroke-width="0.8" stroke-dasharray="1 1"/><line x1="365" y1="280.08" x2="535.2" y2="280.08" stroke="#c3c3c3" stroke-width="0.8" stroke-dasharray="1 1"/><line x1="365" y1="275.92" x2="535.2" y2="275.92" stroke="#c3c3c3" stroke-width="0.8" stroke-dasharray="1 1"/><line x1="365" y1="272.32" x2="535.2" y2="272.32" stroke="#c3c3c3" stroke-width="0.8" stroke-dasharray="1 1"/><line x1="365" y1="269.14" x2="535.2" y2="269.14" stroke="#c3c3c3" stroke-width="0.8" stroke-dasharray="1 1"/></g><path d="M384.88 328.4v-2.3M384.88 204.2v2.3M406.35 328.4v-2.3M406.35 204.2v2.3M427.82 328.4v-2.3M427.82 204.2v2.3M449.30 328.4v-2.3M449.30 204.2v2.3M470.78 328.4v-2.3M470.78 204.2v2.3M492.25 328.4v-2.3M492.25 204.2v2.3M513.73 328.4v-2.3M513.73 204.2v2.3M363.4 247.61h1.8M535.2 247.61h-1.8M363.4 236.67h1.8M535.2 236.67h-1.8M363.4 228.91h1.8M535.2 228.91h-1.8M363.4 222.89h1.8M535.2 222.89h-1.8M363.4 217.98h1.8M535.2 217.98h-1.8M363.4 213.82h1.8M535.2 213.82h-1.8M363.4 210.22h1.8M535.2 210.22h-1.8M363.4 207.04h1.8M535.2 207.04h-1.8M363.4 309.71h1.8M535.2 309.71h-1.8M363.4 298.77h1.8M535.2 298.77h-1.8M363.4 291.01h1.8M535.2 291.01h-1.8M363.4 284.99h1.8M535.2 284.99h-1.8M363.4 280.08h1.8M535.2 280.08h-1.8M363.4 275.92h1.8M535.2 275.92h-1.8M363.4 272.32h1.8M535.2 272.32h-1.8M363.4 269.14h1.8M535.2 269.14h-1.8M363.4 266.30h2.5M535.2 266.30h-2.5" stroke="#262626" stroke-width="0.8" fill="none"/><rect x="363.4" y="204.2" width="171.80" height="124.20" fill="none" stroke="#262626" stroke-width="1.0"/><polyline points="363.40,276.40 384.88,288.00 406.35,305.90 427.82,307.80 449.30,311.00 470.78,312.60 492.25,312.60 513.73,314.90 535.20,315.80" fill="none" stroke="#0072BD" stroke-width="1.4" stroke-linejoin="round"/><circle cx="363.40" cy="276.40" r="1.15" fill="#0072BD"/><circle cx="384.88" cy="288.00" r="1.15" fill="#0072BD"/><circle cx="406.35" cy="305.90" r="1.15" fill="#0072BD"/><circle cx="427.82" cy="307.80" r="1.15" fill="#0072BD"/><circle cx="449.30" cy="311.00" r="1.15" fill="#0072BD"/><circle cx="470.78" cy="312.60" r="1.15" fill="#0072BD"/><circle cx="492.25" cy="312.60" r="1.15" fill="#0072BD"/><circle cx="513.73" cy="314.90" r="1.15" fill="#0072BD"/><circle cx="535.20" cy="315.80" r="1.15" fill="#0072BD"/><polyline points="363.40,273.80 384.88,277.30 406.35,298.10 427.82,298.10 449.30,300.00 470.78,299.20 492.25,300.20 513.73,299.60 535.20,302.00" fill="none" stroke="#D95319" stroke-width="1.4" stroke-linejoin="round"/><circle cx="363.40" cy="273.80" r="2.09" fill="none" stroke="#D95319" stroke-width="1.2"/><circle cx="384.88" cy="277.30" r="2.09" fill="none" stroke="#D95319" stroke-width="1.2"/><circle cx="406.35" cy="298.10" r="2.09" fill="none" stroke="#D95319" stroke-width="1.2"/><circle cx="427.82" cy="298.10" r="2.09" fill="none" stroke="#D95319" stroke-width="1.2"/><circle cx="449.30" cy="300.00" r="2.09" fill="none" stroke="#D95319" stroke-width="1.2"/><circle cx="470.78" cy="299.20" r="2.09" fill="none" stroke="#D95319" stroke-width="1.2"/><circle cx="492.25" cy="300.20" r="2.09" fill="none" stroke="#D95319" stroke-width="1.2"/><circle cx="513.73" cy="299.60" r="2.09" fill="none" stroke="#D95319" stroke-width="1.2"/><circle cx="535.20" cy="302.00" r="2.09" fill="none" stroke="#D95319" stroke-width="1.2"/><polyline points="363.40,275.00 384.88,282.60 406.35,299.30 427.82,299.70 449.30,302.00 470.78,301.10 492.25,302.80 513.73,302.50 535.20,304.40" fill="none" stroke="#EDB120" stroke-width="1.4" stroke-linejoin="round"/><path d="M363.40 271.81L365.71 275.00L363.40 278.19L361.09 275.00Z" fill="#EDB120"/><path d="M384.88 279.41L387.19 282.60L384.88 285.79L382.56 282.60Z" fill="#EDB120"/><path d="M406.35 296.11L408.66 299.30L406.35 302.49L404.04 299.30Z" fill="#EDB120"/><path d="M427.82 296.51L430.13 299.70L427.82 302.89L425.51 299.70Z" fill="#EDB120"/><path d="M449.30 298.81L451.61 302.00L449.30 305.19L446.99 302.00Z" fill="#EDB120"/><path d="M470.78 297.91L473.09 301.10L470.78 304.29L468.47 301.10Z" fill="#EDB120"/><path d="M492.25 299.61L494.56 302.80L492.25 305.99L489.94 302.80Z" fill="#EDB120"/><path d="M513.73 299.31L516.03 302.50L513.73 305.69L511.42 302.50Z" fill="#EDB120"/><path d="M535.20 301.21L537.51 304.40L535.20 307.59L532.89 304.40Z" fill="#EDB120"/><polyline points="363.40,229.90 384.88,236.50 406.35,238.30 427.82,246.80 449.30,253.40 470.78,258.70 492.25,263.50 513.73,269.60 535.20,274.90" fill="none" stroke="#7E2F8E" stroke-width="1.4" stroke-linejoin="round"/><path d="M360.54 229.90L365.69 227.04L365.69 232.76Z" fill="#7E2F8E"/><path d="M382.01 236.50L387.16 233.64L387.16 239.36Z" fill="#7E2F8E"/><path d="M403.49 238.30L408.64 235.44L408.64 241.16Z" fill="#7E2F8E"/><path d="M424.96 246.80L430.11 243.94L430.11 249.66Z" fill="#7E2F8E"/><path d="M446.44 253.40L451.59 250.54L451.59 256.26Z" fill="#7E2F8E"/><path d="M467.92 258.70L473.06 255.84L473.06 261.56Z" fill="#7E2F8E"/><path d="M489.39 263.50L494.54 260.64L494.54 266.36Z" fill="#7E2F8E"/><path d="M510.87 269.60L516.01 266.74L516.01 272.46Z" fill="#7E2F8E"/><path d="M532.34 274.90L537.49 272.04L537.49 277.76Z" fill="#7E2F8E"/><rect x="474.2" y="204.2" width="61.00" height="50.40" fill="#fff" stroke="#262626" stroke-width="1.0"/><line x1="476.2" y1="211.4" x2="491.6" y2="211.4" stroke="#0072BD" stroke-width="1.3"/><circle cx="483.90" cy="211.40" r="1.15" fill="#0072BD"/><text x="493.4" y="214.77" font-size="9.35" fill="#262626">Proposed</text><line x1="476.2" y1="223.7" x2="491.6" y2="223.7" stroke="#D95319" stroke-width="1.3"/><circle cx="483.90" cy="223.70" r="2.09" fill="none" stroke="#D95319" stroke-width="1.2"/><text x="493.4" y="227.07" font-size="9.35" fill="#262626">l1−norm</text><line x1="476.2" y1="236.0" x2="491.6" y2="236.0" stroke="#EDB120" stroke-width="1.3"/><path d="M483.90 232.81L486.21 236.00L483.90 239.19L481.59 236.00Z" fill="#EDB120"/><text x="493.4" y="239.37" font-size="9.35" fill="#262626">l2−norm</text><line x1="476.2" y1="248.2" x2="491.6" y2="248.2" stroke="#7E2F8E" stroke-width="1.3"/><path d="M481.04 248.20L486.19 245.34L486.19 251.06Z" fill="#7E2F8E"/><text x="493.4" y="251.57" font-size="9.35" fill="#262626">Rigidity</text><text x="363.40" y="342.1" font-size="10.5" fill="#262626" text-anchor="middle">30</text><text x="384.88" y="342.1" font-size="10.5" fill="#262626" text-anchor="middle">50</text><text x="406.35" y="342.1" font-size="10.5" fill="#262626" text-anchor="middle">70</text><text x="427.82" y="342.1" font-size="10.5" fill="#262626" text-anchor="middle">90</text><text x="449.30" y="342.1" font-size="10.5" fill="#262626" text-anchor="middle">110</text><text x="470.78" y="342.1" font-size="10.5" fill="#262626" text-anchor="middle">130</text><text x="492.25" y="342.1" font-size="10.5" fill="#262626" text-anchor="middle">150</text><text x="513.73" y="342.1" font-size="10.5" fill="#262626" text-anchor="middle">170</text><text x="535.20" y="342.1" font-size="10.5" fill="#262626" text-anchor="middle">190</text><text x="360.30" y="204.50" font-size="7.40" fill="#262626" text-anchor="end">1</text><text x="355.30" y="209.60" font-size="10.3" fill="#262626" text-anchor="end">10</text><text x="360.30" y="266.60" font-size="7.40" fill="#262626" text-anchor="end">0</text><text x="355.30" y="271.70" font-size="10.3" fill="#262626" text-anchor="end">10</text><text x="359.00" y="328.70" font-size="7.40" fill="#262626" text-anchor="end">-1</text><text x="352.70" y="333.80" font-size="10.3" fill="#262626" text-anchor="end">10</text><text x="445.0" y="357.4" font-size="11.6" fill="#262626" text-anchor="middle">Number of Iterations</text><text transform="translate(336.6,266.50) rotate(-90)" font-size="11.6" fill="#262626" text-anchor="middle">RMSE/lambda</text><text x="435.0" y="378.3" class="lt" font-family="Liberation Serif, serif" font-size="16" fill="#111" text-anchor="middle"><tspan>(</tspan><tspan font-weight="bold">d</tspan><tspan>)</tspan></text></svg>
</body></html>
